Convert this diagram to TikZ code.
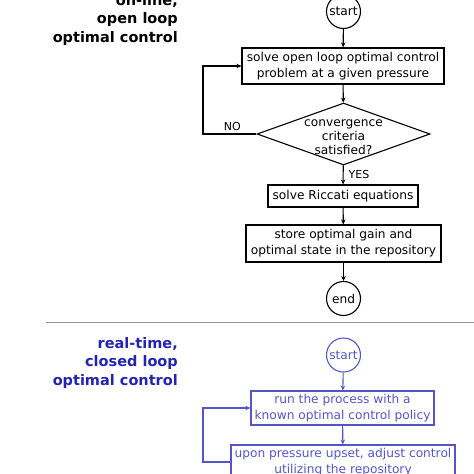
\documentclass[tikz,border=0pt]{standalone}
\usepackage{fontspec}
\setmainfont{DejaVu Sans}
\usetikzlibrary{shapes.geometric,arrows.meta}
\definecolor{titleblue}{RGB}{35,35,180}
\definecolor{flowblue}{RGB}{85,85,200}
\definecolor{sepgray}{RGB}{150,150,150}
\tikzset{
  flow/.style={line width=1.1pt},
  arr/.style={flow,-{Stealth[length=5pt,width=4.5pt]}},
  procbox/.style={draw,flow,rectangle,inner sep=0pt,align=center,font=\fontsize{12.2}{16}\selectfont},
  termcirc/.style={draw,flow,circle,inner sep=0pt,minimum size=34pt,font=\fontsize{12.2}{14}\selectfont},
  decision/.style={draw,flow,diamond,inner sep=0pt,minimum width=173pt,minimum height=62pt},
  titletext/.style={align=right,anchor=base east,inner sep=0pt,font=\fontsize{14.5}{18.5}\selectfont\bfseries},
  edgelabel/.style={inner sep=0pt,font=\fontsize{11}{13}\selectfont},
}
\begin{document}
\begin{tikzpicture}[x=1pt,y=-1pt]
\useasboundingbox (0,0) rectangle (474,474);
\clip (0,0) rectangle (474,474);
% titles
\node[titletext] (t1) at (178,42) {on-line,\\open loop\\optimal control};
\node[titletext,text=titleblue] (t2) at (178,385) {real-time,\\closed loop\\optimal control};
% separator
\coordinate (s1) at (46,322);
\coordinate (s2) at (474,322);
\draw[sepgray,line width=0.8pt] (s1) -- (s2);
% off-line flowchart
\node[termcirc] (st1) at (343.5,11.5) {start};
\node[procbox,minimum width=202pt,minimum height=36pt] (b1) at (343,66) {solve open loop optimal control\\problem at a given pressure};
\node[decision,label={[align=center,inner sep=0pt,yshift=-3pt,font=\fontsize{12.2}{14}\selectfont]center:convergence\\criteria\\satisfied?}] (d1) at (343.5,134) {};
\node[procbox,minimum width=150pt,minimum height=22pt] (b2) at (343,196) {solve Riccati equations};
\node[procbox,minimum width=195pt,minimum height=37pt] (b3) at (343.5,243.5) {store optimal gain and\\optimal state in the repository};
\node[termcirc] (en1) at (343.5,298.5) {end};
\draw[arr] (st1) -- (b1);
\draw[arr] (b1) -- (d1);
\draw[arr] (d1) -- node[edgelabel,right=5pt] {YES} (b2);
\draw[arr] (b2) -- (b3);
\draw[arr] (b3) -- (en1);
\coordinate (l1) at (203,134);
\draw[arr] (d1.west) -- node[edgelabel,above=3pt,pos=0.45] {NO} (l1) |- (b1.west);
% real-time flowchart
\begin{scope}[draw=flowblue,text=flowblue]
\node[termcirc] (st2) at (343.5,355) {start};
\node[procbox,minimum width=183pt,minimum height=34pt] (b4) at (342.5,408) {run the process with a\\known optimal control policy};
\node[procbox,minimum width=224pt,minimum height=34pt] (b5) at (343,462) {upon pressure upset, adjust control\\utilizing the repository};
\draw[arr] (st2) -- (b4);
\draw[arr] (b4) -- (b5);
\coordinate (l2) at (203,462);
\draw[arr] (b5.west) -- (l2) |- (b4.west);
\end{scope}
\end{tikzpicture}
\end{document}
